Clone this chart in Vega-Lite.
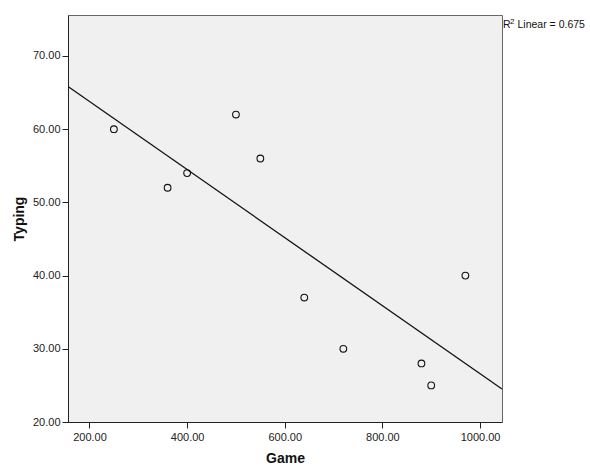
{
  "$schema": "https://vega.github.io/schema/vega-lite/v6.json",
  "autosize": "none",
  "padding": {"left": 68, "top": 15, "right": 88, "bottom": 46},
  "width": 434,
  "height": 407,
  "background": "white",
  "config": {
    "font": "Liberation Sans",
    "view": {"fill": "#f0f0f0", "stroke": "#666666", "strokeWidth": 1}
  },
  "data": {
    "values": [
      {"Game": 250, "Typing": 60},
      {"Game": 360, "Typing": 52},
      {"Game": 400, "Typing": 54},
      {"Game": 500, "Typing": 62},
      {"Game": 550, "Typing": 56},
      {"Game": 640, "Typing": 37},
      {"Game": 720, "Typing": 30},
      {"Game": 880, "Typing": 28},
      {"Game": 900, "Typing": 25},
      {"Game": 970, "Typing": 40}
    ]
  },
  "encoding": {
    "x": {
      "field": "Game",
      "type": "quantitative",
      "scale": {"domain": [156, 1045], "nice": false, "zero": false},
      "axis": {
        "values": [200, 400, 600, 800, 1000],
        "format": ".2f",
        "grid": false,
        "domainColor": "#222222",
        "tickColor": "#222222",
        "tickSize": 6,
        "labelFontSize": 11,
        "labelColor": "#222222",
        "labelPadding": 3,
        "title": "Game",
        "titleFontSize": 14,
        "titleFontWeight": "bold",
        "titleColor": "#111111",
        "titlePadding": 9
      }
    },
    "y": {
      "field": "Typing",
      "type": "quantitative",
      "scale": {"domain": [20, 75.6], "nice": false, "zero": false},
      "axis": {
        "values": [20, 30, 40, 50, 60, 70],
        "format": ".2f",
        "grid": false,
        "domainColor": "#222222",
        "tickColor": "#222222",
        "tickSize": 6,
        "labelFontSize": 11,
        "labelColor": "#222222",
        "labelPadding": 2,
        "title": "Typing",
        "titleFontSize": 14,
        "titleFontWeight": "bold",
        "titleColor": "#111111",
        "titlePadding": 6
      }
    }
  },
  "layer": [
    {
      "mark": {"type": "point", "shape": "circle", "filled": false, "size": 45, "stroke": "#111111", "strokeWidth": 1.1, "opacity": 1}
    },
    {
      "transform": [
        {"regression": "Typing", "on": "Game", "extent": [156, 1045]}
      ],
      "mark": {"type": "line", "color": "#111111", "strokeWidth": 1.3, "clip": true}
    },
    {
      "data": {"values": [{"gx": 1045, "ty": 75.6}]},
      "encoding": {
        "x": {"field": "gx", "type": "quantitative"},
        "y": {"field": "ty", "type": "quantitative"}
      },
      "layer": [
        {
          "mark": {"type": "text", "align": "left", "baseline": "alphabetic", "dx": 1, "dy": 13, "fontSize": 10.5, "color": "#111111"},
          "encoding": {"text": {"value": "R"}}
        },
        {
          "mark": {"type": "text", "align": "left", "baseline": "alphabetic", "dx": 8, "dy": 9, "fontSize": 8, "color": "#111111"},
          "encoding": {"text": {"value": "2"}}
        },
        {
          "mark": {"type": "text", "align": "left", "baseline": "alphabetic", "dx": 15.5, "dy": 13, "fontSize": 10.5, "color": "#111111"},
          "encoding": {"text": {"value": "Linear = 0.675"}}
        }
      ]
    }
  ]
}
